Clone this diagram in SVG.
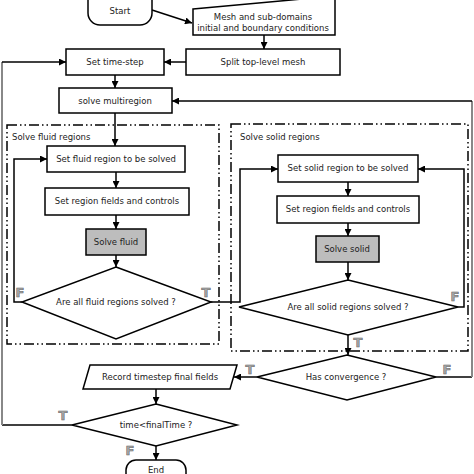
<svg xmlns="http://www.w3.org/2000/svg" width="474" height="474" viewBox="0 0 474 474">
<defs>
<marker id="ah" viewBox="0 0 10 10" refX="10" refY="5" markerWidth="7" markerHeight="7" markerUnits="userSpaceOnUse" orient="auto">
<path d="M0,0 L10,5 L0,10 z" fill="#000"/>
</marker>
<style>
.b{fill:#fff;stroke:#000;stroke-width:1.5}
.g{fill:#bdbdbd;stroke:#000;stroke-width:1.5}
.t{font-family:"DejaVu Sans",sans-serif;font-size:8.5px;fill:#222;text-anchor:middle;dominant-baseline:central}
.l{font-family:"DejaVu Sans",sans-serif;font-size:8.5px;fill:#222}
.tf{font-family:"DejaVu Sans",sans-serif;font-size:13px;font-weight:bold;fill:#aaa;stroke:#666;stroke-width:0.6;text-anchor:middle;dominant-baseline:central}
.c{fill:none;stroke:#000;stroke-width:1.5}
.e{fill:none;stroke:#888;stroke-width:2}
.d{fill:none;stroke:#000;stroke-width:1.5;stroke-dasharray:10,3,1.5,3,1.5,3}
</style>
</defs>
<rect width="474" height="474" fill="#fff"/>
<g id="containers">
<rect class="d" x="7" y="125" width="212" height="219"/>
<text class="l" x="12" y="140">Solve fluid regions</text>
<rect class="d" x="231" y="124" width="237" height="227"/>
<text class="l" x="240" y="140">Solve solid regions</text>
</g>
<g id="connectors">
<path class="c" d="M152,10 L192,23" marker-end="url(#ah)"/>
<path class="c" d="M264,35 L264,49" marker-end="url(#ah)"/>
<path class="c" d="M186,62 L164,62" marker-end="url(#ah)"/>
<path class="c" d="M115,75 L115,88" marker-end="url(#ah)"/>
<path class="c" d="M115,113 L115,146" marker-end="url(#ah)"/>
<path class="c" d="M116,172 L116,188" marker-end="url(#ah)"/>
<path class="c" d="M116,215 L116,229" marker-end="url(#ah)"/>
<path class="c" d="M116,255 L116,267" marker-end="url(#ah)"/>
<path class="c" d="M22,302 L14,302 L14,159 L47,159" marker-end="url(#ah)"/>
<path class="c" d="M211,302 L240,302 L240,169 L278,169" marker-end="url(#ah)"/>
<path class="c" d="M348,182 L348,196" marker-end="url(#ah)"/>
<path class="c" d="M348,223 L348,236" marker-end="url(#ah)"/>
<path class="c" d="M348,262 L348,280" marker-end="url(#ah)"/>
<path class="c" d="M458,307 L464,307 L464,169 L418,169" marker-end="url(#ah)"/>
<path class="c" d="M348,335 L348,355" marker-end="url(#ah)"/>
<path class="c" d="M257,377 L234,377" marker-end="url(#ah)"/>
<path class="c" d="M436,377 L472,377"/>
<path class="e" d="M472,377 L472,101"/>
<path class="c" d="M472,101 L172,101" marker-end="url(#ah)"/>
<path class="c" d="M156,389 L156,404" marker-end="url(#ah)"/>
<path class="c" d="M72,425 L2,425"/>
<path class="e" d="M2,425 L2,62"/>
<path class="c" d="M2,62 L66,62" marker-end="url(#ah)"/>
<path class="c" d="M156,446 L156,460" marker-end="url(#ah)"/>
</g>
<g id="start"><rect class="b" x="88" y="-12" width="64" height="37" rx="12"/><text class="t" x="120" y="11">Start</text></g>
<g id="mesh"><path class="b" d="M193,9 L335,-4 L335,35 L193,35 z"/><text class="t" x="263" y="17">Mesh and sub-domains</text><text class="t" x="263" y="28">initial and boundary conditions</text></g>
<g id="split"><rect class="b" x="186" y="49" width="154" height="26"/><text class="t" x="263" y="62">Split top-level mesh</text></g>
<g id="timestep"><rect class="b" x="66" y="49" width="98" height="26"/><text class="t" x="115" y="62">Set time-step</text></g>
<g id="multiregion"><rect class="b" x="59" y="88" width="113" height="25"/><text class="t" x="115" y="101">solve multiregion</text></g>
<g id="setfluid"><rect class="b" x="47" y="146" width="138" height="26"/><text class="t" x="116" y="159">Set fluid region to be solved</text></g>
<g id="fluidfields"><rect class="b" x="45" y="188" width="144" height="27"/><text class="t" x="117" y="201">Set region fields and controls</text></g>
<g id="solvefluid"><rect class="g" x="86" y="229" width="60" height="26"/><text class="t" x="116" y="242">Solve fluid</text></g>
<g id="fluiddec"><path class="b" d="M116,267 L211,302 L116,339 L22,302 z"/><text class="t" x="116" y="302">Are all fluid regions solved ?</text>
<text class="tf" x="20" y="292">F</text><text class="tf" x="206" y="292">T</text></g>
<g id="setsolid"><rect class="b" x="278" y="155" width="140" height="27"/><text class="t" x="348" y="168">Set solid region to be solved</text></g>
<g id="solidfields"><rect class="b" x="277" y="196" width="142" height="27"/><text class="t" x="348" y="209">Set region fields and controls</text></g>
<g id="solvesolid"><rect class="g" x="316" y="236" width="63" height="26"/><text class="t" x="347" y="249">Solve solid</text></g>
<g id="soliddec"><path class="b" d="M348,280 L458,307 L348,335 L239,307 z"/><text class="t" x="348" y="307">Are all solid regions solved ?</text>
<text class="tf" x="455" y="296">F</text><text class="tf" x="358" y="342">T</text></g>
<g id="convergence"><path class="b" d="M347,355 L436,377 L347,400 L257,377 z"/><text class="t" x="346" y="377">Has convergence ?</text>
<text class="tf" x="250" y="369">T</text><text class="tf" x="447" y="369">F</text></g>
<g id="record"><path class="b" d="M90,365 L237,365 L230,389 L83,389 z"/><text class="t" x="160" y="377">Record timestep final fields</text></g>
<g id="timedec"><path class="b" d="M156,404 L237,425 L156,446 L72,425 z"/><text class="t" x="156" y="425">time&lt;finalTime ?</text>
<text class="tf" x="63" y="415">T</text><text class="tf" x="130" y="450">F</text></g>
<g id="end"><rect class="b" x="126" y="460" width="60" height="30" rx="10"/><text class="t" x="156" y="470">End</text></g>
</svg>
